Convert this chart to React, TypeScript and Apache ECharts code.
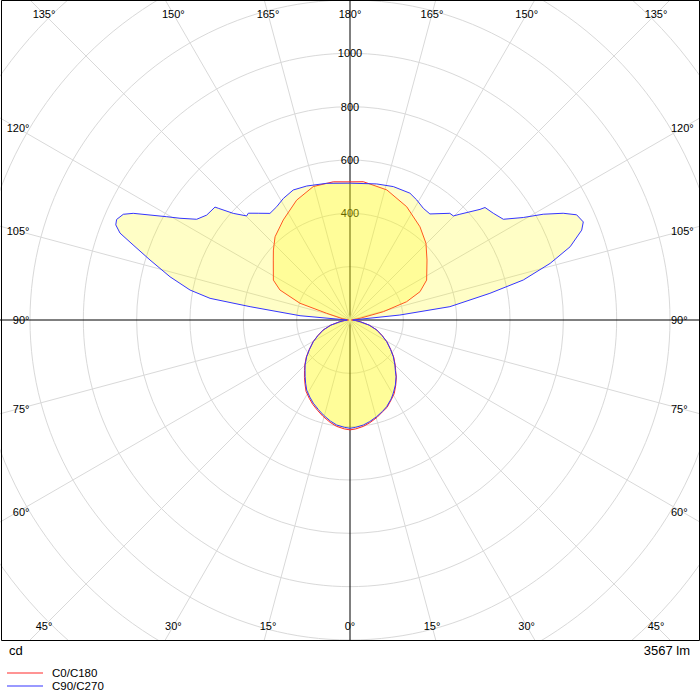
import React, { useEffect, useRef } from "react";
import * as echarts from "echarts";

// ---- data (gamma in degrees, intensity in cd) ----
const SERIES_NAMES = ["C0/C180", "C90/C270"];
const LINE_COLORS = ["#ff2a2a", "#3535ff"];
const FILL_COLOR = "rgba(255,250,0,0.32)";

// C0 half-plane (right side)
const C0_GAMMA = [0, 3, 7.2, 11, 15.5, 19.5, 23, 27.5, 31, 35, 39, 42, 45, 49.7, 54, 59.4, 64, 69.5, 75, 80.4, 85, 90, 99.6, 104, 107.9, 112, 117.5, 127.9, 135.3, 143.1, 153.4, 164.2, 174.5, 180];
const C0_CD = [412, 409, 402, 392, 379, 365, 356, 336, 322, 299, 276, 256, 240, 215, 189, 161, 135, 108, 75, 40, 20, 5, 38, 129, 223, 283, 324, 366, 405, 437, 475, 507, 521, 518];

// C180 half-plane (left side)
const C180_GAMMA = [0, 3, 7.2, 11, 15.7, 19.5, 23.8, 27.5, 31.7, 35, 38.4, 42, 45, 49.7, 54, 59.4, 64, 69.5, 75, 80.4, 85, 90, 100, 106, 108.5, 113.2, 117.5, 128, 132.4, 138, 146.3, 156, 164.6, 173.1, 180];
const C180_CD = [412, 409, 402, 391, 375, 361, 346, 331, 314, 294, 275, 255, 240, 215, 189, 161, 135, 108, 75, 40, 20, 5, 30, 91, 198, 286, 324, 365, 389, 420, 451, 492, 519, 522, 518];

// C90 half-plane (right side)
const C90_GAMMA = [0, 3, 7.2, 11, 15.4, 19.5, 22.9, 27.5, 30.6, 35, 39.1, 42, 45, 49.7, 54, 59.4, 64, 69.5, 75, 80.4, 85, 90, 95.7, 97.6, 100.8, 103, 105.8, 108.4, 111.2, 112.8, 114.9, 116.6, 118.7, 120.6, 123.3, 126.7, 129.8, 130.4, 133.9, 135.2, 136.9, 143, 146.7, 150.9, 154.7, 162, 168.9, 180];
const C90_CD = [406, 403, 397, 388, 376, 364, 353, 334, 319, 297, 274, 254, 238, 213, 188, 160, 134, 107, 74, 38, 20, 10, 188, 378, 534, 667, 780, 870, 932, 949, 937, 894, 826, 755, 688, 670, 659, 640, 572, 550, 548, 498, 501, 515, 526, 526, 520, 513];

// C270 half-plane (left side)
const C270_GAMMA = [0, 3, 7.2, 11, 15.7, 19.5, 23.8, 27.5, 31.7, 35, 38.4, 42, 45, 49.7, 54, 59.4, 64, 69.5, 75, 80.4, 85, 90, 94.9, 97.6, 98.8, 100.6, 103.5, 106.7, 109.1, 110.7, 112.1, 113.3, 115, 116.2, 119.4, 120.9, 123.3, 126.2, 129.9, 130.3, 132.4, 135.2, 136.4, 139.3, 143.1, 147.1, 151.3, 156.4, 162.1, 170.3, 180];
const C270_CD = [406, 403, 397, 386, 370, 356, 341, 326, 309, 290, 271, 252, 238, 213, 188, 160, 134, 107, 74, 38, 20, 10, 188, 378, 531, 610, 694, 783, 861, 922, 948, 953, 938, 906, 789, 743, 688, 666, 660, 648, 593, 550, 553, 528, 500, 506, 520, 532, 528, 520, 513];

const RADIUS_LABELS = [400, 600, 800, 1000];
const RADIUS_MAX = 2000;
const RADIUS_STEP = 200;
const ANGLE_STEP = 15;
const UNIT_LABEL = "cd";
const FLUX_LABEL = "3567 lm";

// ---- layout ----
const FONT = '"Liberation Sans", Arial, sans-serif';
const CX = 350;
const CY = 320;
const PX_PER_CD = 320 / 1200;
const HX = 332;
const HY = 306;

function toPolar(gammas: number[], cds: number[], side: "right" | "left") {
  return gammas.map((g, i) => [cds[i], side === "right" ? 180 - g : 180 + g]);
}

function planeData(rg: number[], rc: number[], lg: number[], lc: number[]) {
  const right = toPolar(rg, rc, "right").reverse();
  const left = toPolar(lg, lc, "left");
  return [...right, ...left];
}

function angleLabels() {
  const out: any[] = [];
  for (let t = 0; t < 360; t += ANGLE_STEP) {
    const gamma = t <= 180 ? 180 - t : t - 180;
    const rad = (t * Math.PI) / 180;
    const sx = Math.sin(rad);
    const sy = -Math.cos(rad);
    let x: number;
    let y: number;
    let align: string;
    if (Math.abs(sx) * HY > Math.abs(sy) * HX + 1e-6) {
      const k = HX / Math.abs(sx);
      y = CY + sy * k;
      if (sx > 0) {
        x = 671;
        align = "left";
      } else {
        x = 29.5;
        align = "right";
      }
    } else {
      const k = HY / Math.abs(sy);
      x = CX + sx * k;
      y = CY + sy * k;
      align = "center";
    }
    out.push({
      type: "text",
      x,
      y,
      z: 60,
      style: {
        text: gamma + "°",
        fill: "#000",
        fontSize: 11,
        fontFamily: FONT,
        textAlign: align,
        align,
        textVerticalAlign: "middle",
        verticalAlign: "middle",
      },
    });
  }
  return out;
}

function buildOption(): any {
  const gridGray = "#d9d9d9";
  const angleColors = ["#000000", gridGray, gridGray, gridGray, gridGray, gridGray];
  return {
    animation: false,
    backgroundColor: "#ffffff",
    polar: {
      center: [CX, CY],
      radius: RADIUS_MAX * PX_PER_CD,
    },
    angleAxis: {
      type: "value",
      min: 0,
      max: 360,
      interval: ANGLE_STEP,
      startAngle: 90,
      clockwise: true,
      axisLine: { show: false },
      axisTick: { show: false },
      axisLabel: { show: false },
      splitLine: { show: true, lineStyle: { color: angleColors, width: 1 } },
    },
    radiusAxis: {
      type: "value",
      min: 0,
      max: RADIUS_MAX,
      interval: RADIUS_STEP,
      axisLine: { show: false },
      axisTick: { show: false },
      axisLabel: {
        show: true,
        margin: 0,
        align: "center",
        verticalAlign: "middle",
        color: "#000",
        fontSize: 11,
        fontFamily: FONT,
        formatter: (v: number) => (RADIUS_LABELS.indexOf(v) >= 0 ? String(v) : ""),
      },
      splitLine: { show: true, lineStyle: { color: gridGray, width: 1 } },
    },
    legend: {
      orient: "vertical",
      left: 7,
      top: 667,
      padding: 0,
      itemWidth: 36,
      itemHeight: 13,
      itemGap: 1,
      selectedMode: false,
      symbolKeepAspect: true,
      icon: "path://M0,0H36V1H0Z",
      z: 60,
      data: SERIES_NAMES.map((name, i) => ({
        name,
        icon: "path://M0,0H36V1H0Z",
        itemStyle: { color: LINE_COLORS[i], borderWidth: 0, opacity: 1 },
      })),
      textStyle: { fontSize: 11.5, fontFamily: FONT, color: "#000", padding: [0, 0, 0, 4] },
    },
    graphic: [
      {
        type: "rect",
        z: 50,
        silent: true,
        shape: { x: 0, y: 641, width: 700, height: 59 },
        style: { fill: "#ffffff", stroke: null },
      },
      {
        type: "rect",
        z: 55,
        silent: true,
        shape: { x: 1.5, y: 0.5, width: 698, height: 640 },
        style: { fill: null, stroke: "#000", lineWidth: 1 },
      },
      ...angleLabels(),
      {
        type: "text",
        x: 9,
        y: 650,
        z: 60,
        style: {
          text: UNIT_LABEL,
          fill: "#000",
          fontSize: 13,
          fontFamily: FONT,
          textAlign: "left",
          align: "left",
          textVerticalAlign: "middle",
          verticalAlign: "middle",
        },
      },
      {
        type: "text",
        x: 690,
        y: 650,
        z: 60,
        style: {
          text: FLUX_LABEL,
          fill: "#000",
          fontSize: 13,
          fontFamily: FONT,
          textAlign: "right",
          align: "right",
          textVerticalAlign: "middle",
          verticalAlign: "middle",
        },
      },
    ],
    series: [
      {
        type: "line",
        name: SERIES_NAMES[0],
        coordinateSystem: "polar",
        data: planeData(C0_GAMMA, C0_CD, C180_GAMMA, C180_CD),
        symbol: "none",
        showSymbol: false,
        smooth: false,
        lineStyle: { color: LINE_COLORS[0], width: 1 },
        itemStyle: { color: LINE_COLORS[0] },
        areaStyle: { color: FILL_COLOR },
        z: 2,
      },
      {
        type: "line",
        name: SERIES_NAMES[1],
        coordinateSystem: "polar",
        data: planeData(C90_GAMMA, C90_CD, C270_GAMMA, C270_CD),
        symbol: "none",
        showSymbol: false,
        smooth: false,
        lineStyle: { color: LINE_COLORS[1], width: 1 },
        itemStyle: { color: LINE_COLORS[1] },
        areaStyle: { color: FILL_COLOR },
        z: 3,
      },
    ],
  };
}

export default function App() {
  const ref = useRef<HTMLDivElement>(null);
  useEffect(() => {
    document.body.style.margin = "0";
    const el = ref.current;
    if (!el) return;
    const chart = echarts.init(el, null, { renderer: "svg" });
    chart.setOption(buildOption());
    return () => {
      chart.dispose();
    };
  }, []);
  return (
    <div
      ref={ref}
      style={{ position: "absolute", left: 0, top: 0, width: 700, height: 700, overflow: "hidden", background: "#fff" }}
    />
  );
}
